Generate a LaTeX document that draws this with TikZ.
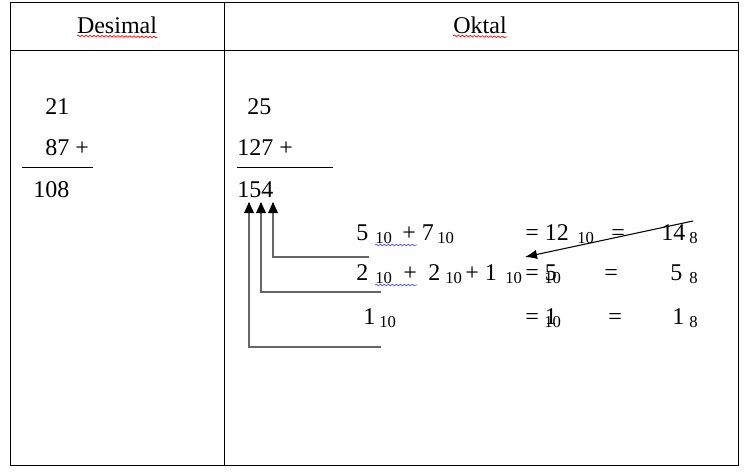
\documentclass[tikz,border=0pt]{standalone}
\usepackage{fontspec}
\setmainfont{Liberation Serif}
\usetikzlibrary{decorations.pathmorphing,arrows.meta}
\begin{document}
\begin{tikzpicture}[x=0.75pt,y=-0.75pt,
  t/.style={anchor=base west,inner sep=0pt,font=\fontsize{18}{20}\selectfont},
  s/.style={anchor=base west,inner sep=0pt,font=\fontsize{12.5}{14}\selectfont},
  conn/.style={draw=black!60,line width=0.9pt},
  wavy/.style={decorate,decoration={snake,amplitude=0.6pt,segment length=3pt},line width=0.5pt}]
\useasboundingbox (0,0) rectangle (745,474);
\draw[line width=0.7pt] (10,2) rectangle (738,465);
\draw[line width=0.7pt] (10,50) -- (738,50);
\draw[line width=0.7pt] (224,2) -- (224,465);
\node[inner sep=0pt,font=\fontsize{18}{20}\selectfont] (h1) at (117,25) {Desimal};
\node[inner sep=0pt,font=\fontsize{18}{20}\selectfont] (h2) at (480,25) {Oktal};
\draw[wavy,red] (h1.south west)++(0,2) -- (h1.south east|-0,37);
\draw[wavy,red] (h2.south west)++(0,2) -- (h2.south east|-0,37);
% decimal
\node[t] (d1) at (45,115) {21};
\node[t] (d2) at (45,156) {87 +};
\draw[line width=0.7pt] (22,167) -- (93,167);
\node[t] (d3) at (33,197) {108};
% octal
\node[t] (o1) at (247,115) {25};
\node[t] (o2) at (237,156) {127 +};
\draw[line width=0.7pt] (237,167) -- (333,167);
\node[t] (o3) at (237,197) {154};
% rows
\node[t] at (356,240) {5}; \node[s] at (375,243) {10}; \node[t] at (402,240) {+ 7}; \node[s] at (437,243) {10};
\node[t] at (525,240) {= 12}; \node[s] at (577,243) {10}; \node[t] at (611,240) {=}; \node[t] at (661,240) {14}; \node[s] at (689,243) {8};
\node[t] at (356,280) {2}; \node[s] at (375,283) {10}; \node[t] at (403,280) {+}; \node[t] at (428,280) {2}; \node[s] at (445,283) {10};
\node[t] at (465,280) {+ 1}; \node[s] at (505,283) {10}; \node[t] at (525,280) {= 5}; \node[s] at (544,283) {10}; \node[t] at (604,280) {=}; \node[t] at (670,280) {5}; \node[s] at (689,283) {8};
\node[t] at (363,324) {1}; \node[s] at (379,327) {10};
\node[t] at (525,324) {= 1}; \node[s] at (544,327) {10}; \node[t] at (608,324) {=}; \node[t] at (672,324) {1}; \node[s] at (689,327) {8};
\draw[wavy,blue!70] (375,245) -- (417,245);
\draw[wavy,blue!70] (375,285) -- (417,285);
% connectors
\coordinate (e1) at (369,257); \coordinate (e2) at (381,292); \coordinate (e3) at (381,347);
\coordinate (a1) at (273,203); \coordinate (a2) at (261,203); \coordinate (a3) at (249,203);
\draw[conn] (e1) -- (273,257) -- (a1);
\draw[conn] (e2) -- (261,292) -- (a2);
\draw[conn] (e3) -- (249,347) -- (a3);
\fill (268,213) -- (273,202) -- (278,213) -- cycle;
\fill (256,213) -- (261,202) -- (266,213) -- cycle;
\fill (244,213) -- (249,202) -- (254,213) -- cycle;
\coordinate (s) at (693,221); \coordinate (tg) at (525,257);
\draw[line width=0.8pt,-{Latex[length=9pt,width=7pt]}] (s) -- (tg);
\end{tikzpicture}
\end{document}
